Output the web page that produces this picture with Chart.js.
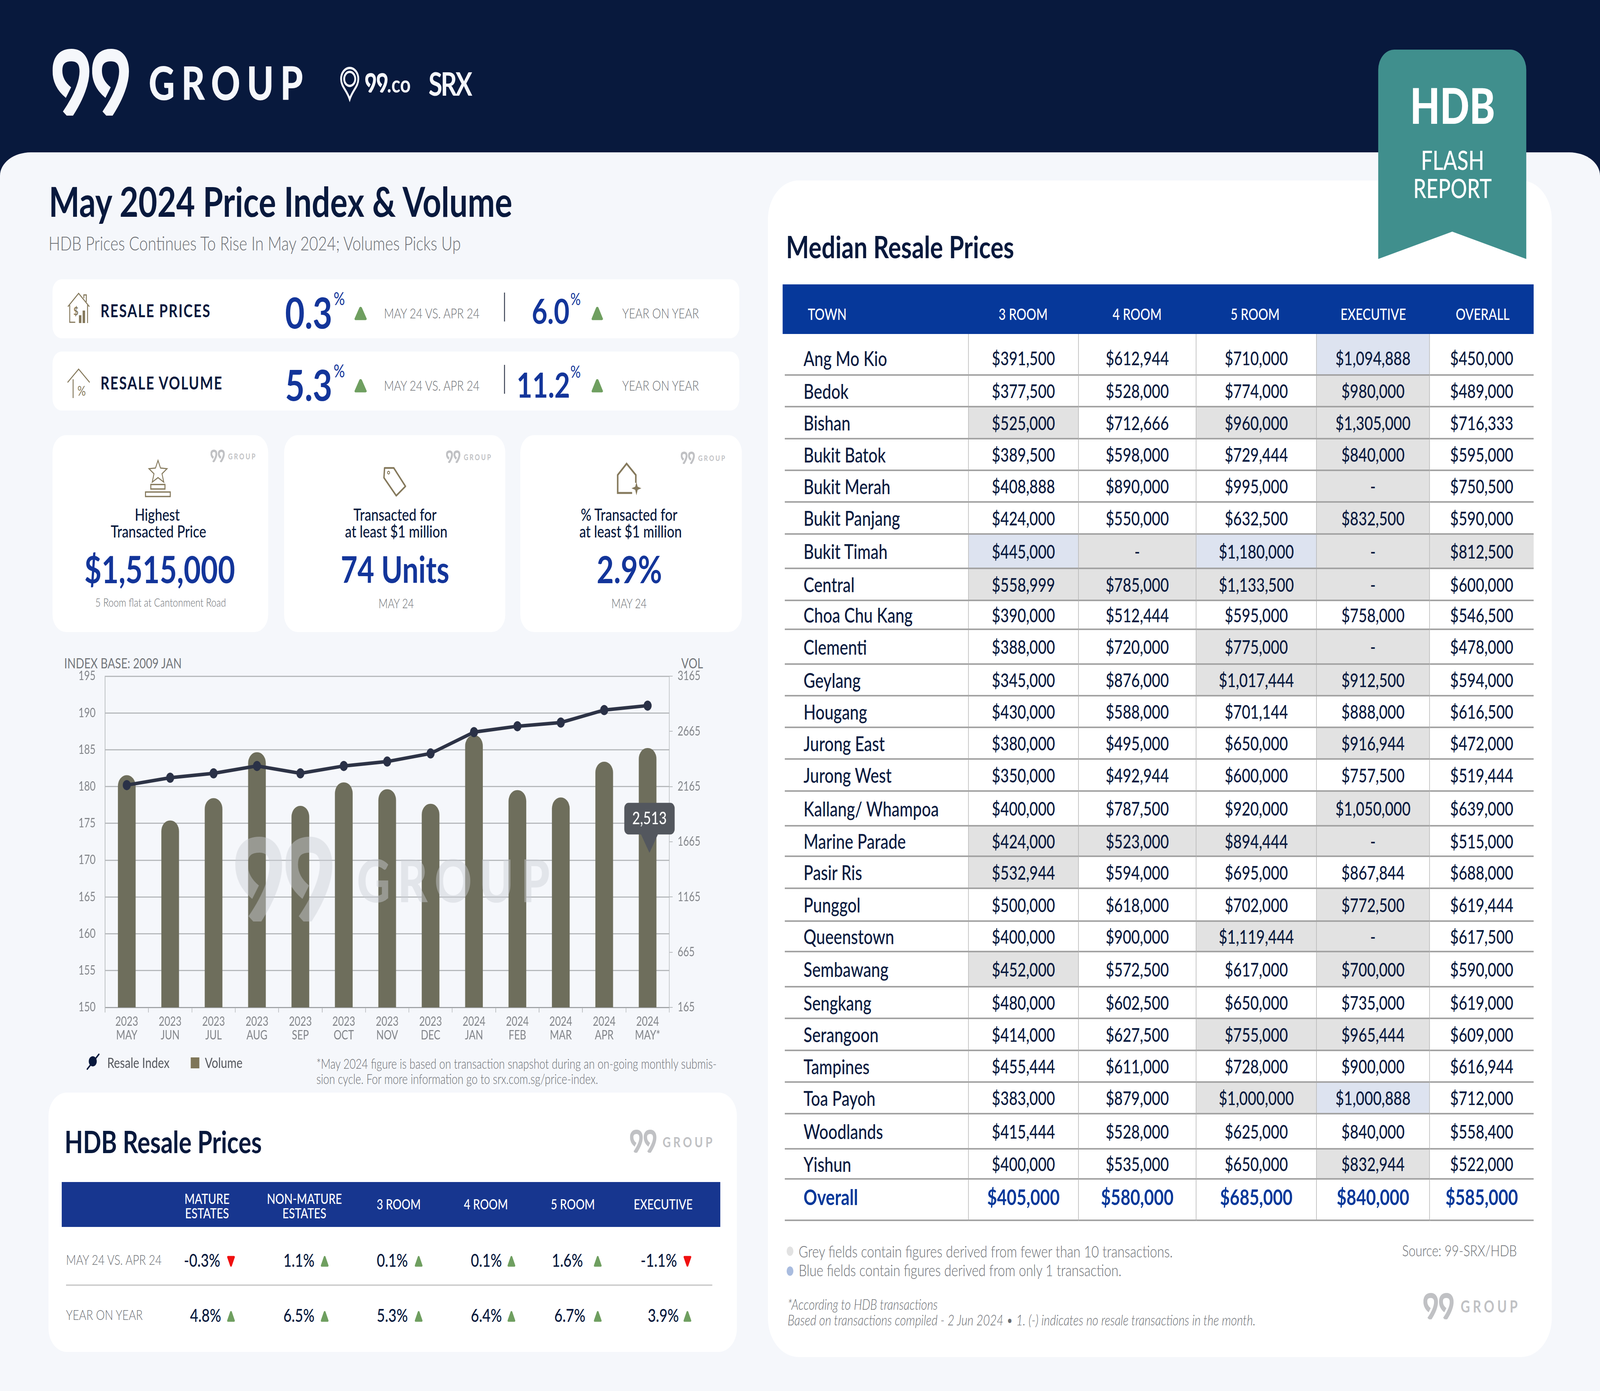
<!DOCTYPE html>
<html>
<head>
<meta charset="utf-8">
<title>HDB Flash Report May 2024</title>
<script src="https://cdn.jsdelivr.net/npm/chart.js@4"></script>
<style>
    html, body { margin: 0; padding: 0; overflow: hidden; background: #f5f7fb; }
    #page { position: absolute; left: 0; top: 0; width: 5209px; height: 3561px; overflow: hidden; transform-origin: 0 0; background: #f5f7fb; font-family: Lato, sans-serif; color: #0a1b40; }
    .box { position: absolute; }
    .txt { position: absolute; white-space: nowrap; line-height: 1; }
    svg { position: absolute; overflow: visible; }
    #priceTable { position: absolute; left: 2555px; top: 855px; width: 2438px; border-collapse: collapse; table-layout: fixed; font-size: 48px; font-weight: 500; }
    #priceTable td { padding: 0; text-align: center; border-right: 2px solid #b8b8b8; border-bottom: 4px solid #a3a3a3; box-sizing: border-box; }
    #priceTable td:last-child { border-right: none; }
    #priceTable td:first-child { text-align: left; padding-left: 61px; font-size: 52px; }
    #priceTable td.grey { background: #e2e2e2; }
    #priceTable td.blue { background: #dde3f0; }
    #priceTable tr.first td { padding-top: 20px; }
    #priceTable tr.overall td { color: #06389a; font-weight: 700; font-size: 55px; padding-bottom: 14px; }
</style>
</head>
<body>
<div id="page">
<svg width="0" height="0">
    <defs>
        <symbol id="nine" viewBox="0 0 125 171">
            <path d="M52 112 C30 98 16 80 16 56 C16 26 36 16 62 16 C88 16 104 30 104 58 C104 80 92 118 46 171" fill="none" stroke="currentColor" stroke-width="32"/>
        </symbol>
    </defs>
</svg>
</div>

<script>
// Index and volume chart
const months = [["2023","MAY"],["2023","JUN"],["2023","JUL"],["2023","AUG"],["2023","SEP"],["2023","OCT"],["2023","NOV"],["2023","DEC"],["2024","JAN"],["2024","FEB"],["2024","MAR"],["2024","APR"],["2024","MAY*"]];
const resaleIndex = [180.2, 181.2, 181.8, 182.8, 181.8, 182.8, 183.4, 184.5, 187.4, 188.2, 188.7, 190.4, 191.0];
const volume = [2267, 1857, 2059, 2475, 1989, 2202, 2140, 2008, 2630, 2132, 2065, 2389, 2513];
const indexTicks = [150, 155, 160, 165, 170, 175, 180, 185, 190, 195];
const volumeTicks = [165, 665, 1165, 1665, 2165, 2665, 3165];

// Median resale prices table
const towns = ["Ang Mo Kio","Bedok","Bishan","Bukit Batok","Bukit Merah","Bukit Panjang","Bukit Timah","Central","Choa Chu Kang","Clementi","Geylang","Hougang","Jurong East","Jurong West","Kallang/ Whampoa","Marine Parade","Pasir Ris","Punggol","Queenstown","Sembawang","Sengkang","Serangoon","Tampines","Toa Payoh","Woodlands","Yishun","Overall"];
const room3 = ["$391,500","$377,500","$525,000","$389,500","$408,888","$424,000","$445,000","$558,999","$390,000","$388,000","$345,000","$430,000","$380,000","$350,000","$400,000","$424,000","$532,944","$500,000","$400,000","$452,000","$480,000","$414,000","$455,444","$383,000","$415,444","$400,000","$405,000"];
const room4 = ["$612,944","$528,000","$712,666","$598,000","$890,000","$550,000","-","$785,000","$512,444","$720,000","$876,000","$588,000","$495,000","$492,944","$787,500","$523,000","$594,000","$618,000","$900,000","$572,500","$602,500","$627,500","$611,000","$879,000","$528,000","$535,000","$580,000"];
const room5 = ["$710,000","$774,000","$960,000","$729,444","$995,000","$632,500","$1,180,000","$1,133,500","$595,000","$775,000","$1,017,444","$701,144","$650,000","$600,000","$920,000","$894,444","$695,000","$702,000","$1,119,444","$617,000","$650,000","$755,000","$728,000","$1,000,000","$625,000","$650,000","$685,000"];
const executive = ["$1,094,888","$980,000","$1,305,000","$840,000","-","$832,500","-","-","$758,000","-","$912,500","$888,000","$916,944","$757,500","$1,050,000","-","$867,844","$772,500","-","$700,000","$735,000","$965,444","$900,000","$1,000,888","$840,000","$832,944","$840,000"];
const overall = ["$450,000","$489,000","$716,333","$595,000","$750,500","$590,000","$812,500","$600,000","$546,500","$478,000","$594,000","$616,500","$472,000","$519,444","$639,000","$515,000","$688,000","$619,444","$617,500","$590,000","$619,000","$609,000","$616,944","$712,000","$558,400","$522,000","$585,000"];
// cell shading by row: column index 1..5 (3 room .. overall)
const greyCells = {1:[4],2:[1,3,4],3:[4],4:[4],5:[4],6:[2,4,5],7:[1,2,3,4],9:[3,4],10:[3,4],12:[4],14:[4],15:[1,2,3,4],16:[1],17:[4],18:[3,4],19:[1,4],21:[3,4],23:[3],25:[4]};
const blueCells = {0:[4],6:[1,3],23:[4]};

// HDB resale prices table
const changeColumns = [["MATURE","ESTATES"],["NON-MATURE","ESTATES"],["3 ROOM"],["4 ROOM"],["5 ROOM"],["EXECUTIVE"]];
const monthChange = [-0.3, 1.1, 0.1, 0.1, 1.6, -1.1];
const yearChange = [4.8, 6.5, 5.3, 6.4, 6.7, 3.9];

const NAVY = "#08193d", BLUE = "#13359a", OLIVE = "#85795c", GREEN = "#6f9f60", RED = "#f01010", GREY = "#6b6e73";

// The sandbox can hand us a smaller window than asked for, so fit the 5209x3561 layout to it
const page = document.getElementById("page");
page.style.transform = `scale(${window.innerWidth / 5209}, ${window.innerHeight / 3561})`;

// ---- small drawing helpers ----
function box(x, y, w, h, bg, radius) {
    const el = document.createElement("div");
    el.className = "box";
    el.style.cssText = `left:${x}px;top:${y}px;width:${w}px;height:${h}px;background:${bg};border-radius:${radius || 0}`;
    page.appendChild(el);
    return el;
}

// y is the vertical centre of the text, align is left / center / right
function text(str, x, y, size, opts = {}) {
    const el = document.createElement("div");
    el.className = "txt";
    const shift = opts.align === "center" ? "-50%" : opts.align === "right" ? "-100%" : "0";
    el.style.cssText = `left:${x}px;top:${y}px;transform:translate(${shift},-50%);font-size:${size}px;font-weight:${opts.weight || 400};color:${opts.color || NAVY};letter-spacing:${opts.spacing || 0}px;font-style:${opts.style || "normal"}`;
    el.textContent = str;
    page.appendChild(el);
    return el;
}

function svg(markup, x, y, w, h, viewBox) {
    const holder = document.createElement("div");
    holder.innerHTML = `<svg style="left:${x}px;top:${y}px" width="${w}" height="${h}" viewBox="${viewBox}">${markup}</svg>`;
    page.appendChild(holder.firstChild);
}

function triangle(x, y, w, h, color, down) {
    const pts = down ? "1.5,1.5 8.5,1.5 5,10.5" : "5,1.5 8.5,10.5 1.5,10.5";
    svg(`<polygon points="${pts}" fill="${color}" stroke="${color}" stroke-width="2" stroke-linejoin="round"/>`, x, y, w, h, "0 0 10 12\" preserveAspectRatio=\"none");
}

function nines(x, y, h, color) {
    const w = h * 125 / 171, gap = w * 1.03;
    svg(`<use href="#nine" x="0" y="0" width="125" height="171" color="${color}"/><use href="#nine" x="129" y="0" width="125" height="171" color="${color}"/>`, x, y, w + gap, h, "0 0 254 171");
}

function smallLogo(x, y, w, color) {
    // whole mark is w wide, the 99 takes about 36 percent of it
    const h = w * 0.212;
    nines(x, y, h, color);
    text("GROUP", x + w * 0.38, y + h * 0.52, h * 0.62, { weight: 700, color: color, spacing: h * 0.14 });
}

// ---- header ----
box(0, 0, 5209, 450, NAVY);
box(0, 390, 5209, 3171, "#f5f7fb", "100px 100px 0 0 / 60px 60px 0 0");
nines(171, 125, 171, "#f5f7fb");
text("GROUP", 484, 211, 118, { weight: 900, color: "#f5f7fb", spacing: 21 });
svg(`<path d="M32 84 C22 60 4 52 4 32 A28 28 0 0 1 60 32 C60 52 42 60 32 84 Z M32 14 A18 18 0 1 0 32 50 A18 18 0 1 0 32 14" fill="none" stroke="#f5f7fb" stroke-width="6"/>`, 1106, 170, 65, 84, "0 0 64 84");
nines(1189, 187, 50, "#f5f7fb");
text(".co", 1260, 214, 60, { weight: 700, color: "#f5f7fb" });
text("SRX", 1395, 213, 82, { weight: 700, color: "#f5f7fb", spacing: -5 });

// ---- left column headline ----
text("May 2024 Price Index & Volume", 159, 514, 106, { weight: 700 });
text("HDB Prices Continues To Rise In May 2024; Volumes Picks Up", 158, 622, 50, { weight: 300, color: GREY });

box(171, 715, 2236, 151, "#ffffff", "30px");
box(171, 900, 2236, 151, "#ffffff", "30px");

// house icons in the two summary bars
svg(`<path d="M6 38 L41 4 L76 38 M12 34 V78 H30 M70 34 V80 M58 16 V8 H66 V26" fill="none" stroke="${OLIVE}" stroke-width="3"/><path d="M42 60 H50 V80 H42 Z M54 48 H62 V80 H54 Z" fill="${OLIVE}"/><text x="24" y="60" font-size="28" font-weight="700" fill="${OLIVE}" font-family="Lato">$</text>`, 215, 747, 83, 85, "0 0 83 85");
svg(`<path d="M2 36 L38 2 L74 36 M20 28 V76" fill="none" stroke="${OLIVE}" stroke-width="3"/><text x="34" y="70" font-size="34" fill="${OLIVE}" font-family="Lato">%</text>`, 218, 943, 75, 77, "0 0 75 77");

function statRow(label, y, big1, big2, size2, x2, pct2Y, big2Y) {
    text(label, 327, y, 45, { weight: 700, spacing: 3 });
    text(big1, 928, y + 3, 110, { weight: 700, color: BLUE });
    text("%", 1086, y - 31, 46, { color: BLUE });
    triangle(1152, y - 11, 44, 37, GREEN);
    text("MAY 24 VS. APR 24", 1250, y + 6, 36, { weight: 300, color: GREY });
    box(1641, y - 46, 3, 74, "#333a4d");
    text(big2, x2, big2Y, size2, { weight: 700, color: BLUE });
    text("%", 1857, pct2Y, 42, { color: BLUE });
    triangle(1924, y - 11, 41, 37, GREEN);
    text("YEAR ON YEAR", 2026, y + 6, 36, { weight: 300, color: GREY });
}
statRow("RESALE PRICES", 795, "0.3", "6.0", 88, 1731, 765, 795);
statRow("RESALE VOLUME", 980, "5.3", "11.2", 88, 1682, 951, 984);

// ---- three highlight cards ----
box(171, 1114, 702, 504, "#ffffff", "44px");
box(925, 1114, 720, 504, "#ffffff", "44px");
box(1694, 1114, 721, 504, "#ffffff", "44px");
smallLogo(685, 1151, 152, "#c0c1c4");
smallLogo(1452, 1153, 152, "#c0c1c4");
smallLogo(2216, 1156, 150, "#c0c1c4");

svg(`<path d="M44 2 L54 26 L80 28 L60 44 L67 70 L44 56 L21 70 L28 44 L8 28 L34 26 Z" fill="none" stroke="${OLIVE}" stroke-width="3.5" transform="translate(7,0) scale(.85)"/><rect x="20" y="66" width="48" height="12" fill="none" stroke="${OLIVE}" stroke-width="3.5"/><rect x="2" y="86" width="84" height="12" fill="none" stroke="${OLIVE}" stroke-width="3.5"/>`, 470, 1177, 88, 96, "0 0 88 100");
svg(`<path d="M6 3 H36 L74 50 L44 74 L4 28 Z" fill="none" stroke="${OLIVE}" stroke-width="4.5" stroke-linejoin="round"/><circle cx="19" cy="15" r="3.5" fill="none" stroke="${OLIVE}" stroke-width="2.5"/>`, 1246, 1195, 77, 76, "0 0 77 76");
svg(`<path d="M50 78 H3 V32 L32 3 L62 32 V52" fill="none" stroke="${OLIVE}" stroke-width="5"/><path d="M64 50 L68 62 L80 66 L68 70 L64 84 L60 70 L48 66 L60 62 Z" fill="${OLIVE}"/>`, 2008, 1184, 80, 85, "0 0 80 85");

const cards = [
    { c1: 512, c2: 516, l1: "Highest", l2: "Transacted Price", big: "$1,515,000", bigC: 520, bigS: 96, sub: "5 Room flat at Cantonment Road", subC: 523, subY: 1541, subS: 30 },
    { c1: 1286, c2: 1290, l1: "Transacted for", l2: "at least $1 million", big: "74 Units", bigC: 1286, bigS: 94, sub: "MAY 24", subC: 1290, subY: 1544, subS: 33 },
    { c1: 2048, c2: 2053, l1: "% Transacted for", l2: "at least $1 million", big: "2.9%", bigC: 2049, bigS: 96, sub: "MAY 24", subC: 2048, subY: 1544, subS: 33 }
];
cards.forEach(c => {
    text(c.l1, c.c1, 1316, 43, { align: "center", weight: 500 });
    text(c.l2, c.c2, 1359, 43, { align: "center", weight: 500 });
    text(c.big, c.bigC, 1456, c.bigS, { align: "center", weight: 700, color: BLUE });
    text(c.sub, c.subC, c.subY, c.subS, { align: "center", weight: 300, color: GREY });
});

// ---- chart captions ----
text("INDEX BASE: 2009 JAN", 209, 1697, 36, { weight: 400, color: "#74777c" });
text("VOL", 2218, 1697, 36, { weight: 400, color: "#74777c" });

// Callout above the last volume bar, its position comes from the bar element
const calloutPlugin = {
    id: "callout",
    afterDatasetsDraw(chart) {
        const meta = chart.getDatasetMeta(1);
        const last = meta.data[meta.data.length - 1];
        const ctx = chart.ctx;
        const cx = last.x + 6;
        const top = last.y + 140;
        ctx.save();
        ctx.fillStyle = "#53575e";
        ctx.beginPath();
        ctx.roundRect(cx - 82, top, 164, 81, 14);
        ctx.fill();
        ctx.beginPath();
        ctx.moveTo(cx - 28, top + 80);
        ctx.lineTo(cx + 28, top + 80);
        ctx.lineTo(cx, top + 128);
        ctx.closePath();
        ctx.fill();
        ctx.fillStyle = "#ffffff";
        ctx.font = "500 44px Lato";
        ctx.textAlign = "center";
        ctx.textBaseline = "middle";
        ctx.fillText(volume[volume.length - 1].toLocaleString("en-US"), cx, top + 41);
        ctx.restore();
    }
};

const tickFont = { family: "Lato", size: 32, weight: "400" };
const tickColor = "#808388";
const gridColor = "#b7babd";

// canvas goes in after the page backgrounds so they do not cover it
const canvas = document.createElement("canvas");
canvas.id = "trendChart";
canvas.width = 2100;
canvas.height = 1000;
canvas.style.cssText = "position:absolute;left:200px;top:1700px;width:2100px;height:1000px";
page.appendChild(canvas);

// tick padding also counts as space above the plot, so drop it to pin the plot top
function fitSideAxis(scale, width) {
    scale.width = width;
    scale.paddingTop = 0;
    scale.paddingBottom = 0;
}

new Chart(canvas.getContext("2d"), {
    type: "bar",
    data: {
        labels: months,
        datasets: [
            {
                type: "line",
                label: "Resale Index",
                data: resaleIndex,
                yAxisID: "yIndex",
                order: 1,
                borderColor: "#2d3346",
                backgroundColor: "#2d3346",
                borderWidth: 9,
                pointRadius: 13,
                pointBackgroundColor: "#2a3147",
                pointBorderWidth: 0,
                tension: 0
            },
            {
                type: "bar",
                label: "Volume",
                data: volume,
                yAxisID: "yVolume",
                order: 2,
                backgroundColor: "#6e6e5c",
                barThickness: 57,
                borderSkipped: "bottom",
                borderRadius: { topLeft: 28, topRight: 28, bottomLeft: 0, bottomRight: 0 }
            }
        ]
    },
    options: {
        responsive: false,
        devicePixelRatio: 1,
        animation: false,
        layout: { padding: { top: 31, left: 0, right: 0, bottom: 0 } },
        plugins: { legend: { display: false }, tooltip: { enabled: false } },
        scales: {
            x: {
                offset: true,
                grid: { offset: true, drawOnChartArea: false, drawTicks: true, tickLength: 13, color: gridColor, lineWidth: 2 },
                border: { color: "#9a9da0", width: 2 },
                ticks: { font: { ...tickFont, lineHeight: 1.1 }, color: tickColor, maxRotation: 0, autoSkip: false, padding: 6 },
                afterFit(scale) { scale.height = 121; }
            },
            yIndex: {
                position: "left",
                min: indexTicks[0],
                max: indexTicks[indexTicks.length - 1],
                grid: { color: gridColor, lineWidth: 3, drawTicks: false },
                border: { color: gridColor, width: 2 },
                ticks: { stepSize: indexTicks[1] - indexTicks[0], font: tickFont, color: tickColor, padding: 31 },
                afterFit(scale) { fitSideAxis(scale, 142); }
            },
            yVolume: {
                position: "right",
                min: volumeTicks[0],
                max: volumeTicks[volumeTicks.length - 1],
                grid: { drawOnChartArea: false, tickLength: 11, color: gridColor, lineWidth: 2 },
                border: { color: gridColor, width: 2 },
                ticks: { stepSize: volumeTicks[1] - volumeTicks[0], font: tickFont, color: tickColor, padding: 16, callback: v => String(v) },
                afterFit(scale) { fitSideAxis(scale, 121); }
            }
        }
    },
    plugins: [calloutPlugin]
});

// watermark sits over the bars
nines(766, 2142, 217, "rgba(205,207,212,0.45)");
text("GROUP", 1162, 2252, 150, { weight: 900, color: "rgba(205,207,212,0.45)", spacing: 24 });

// legend
svg(`<line x1="4" y1="40" x2="42" y2="2" stroke="#08193d" stroke-width="4" stroke-linecap="round"/><circle cx="22" cy="20" r="13" fill="#08193d"/>`, 280, 2697, 44, 42, "0 0 44 42");
text("Resale Index", 349, 2719, 37, { color: "#55585e" });
box(621, 2707, 28, 28, "#7f7658");
text("Volume", 667, 2719, 37, { color: "#55585e" });
text("*May 2024 figure is based on transaction snapshot during an on-going monthly submis-", 1030, 2723, 34.6, { weight: 300, color: GREY });
text("sion cycle. For more information go to srx.com.sg/price-index.", 1030, 2762, 34.6, { weight: 300, color: GREY });

// ---- HDB resale prices card ----
box(158, 2797, 2241, 664, "#ffffff", "60px");
text("HDB Resale Prices", 210, 2922, 78, { weight: 700 });
smallLogo(2051, 2892, 279, "#c0c1c4");
box(201, 3026, 2144, 115, "#17368f");

const changeCentres = [674, 991, 1298, 1582, 1865, 2159];
const valueRights = [717, 1024, 1328, 1634, 1898, 2204];
const yearRights = [720, 1024, 1328, 1634, 1906, 2210];
const triLefts = [738, 1043, 1349, 1651, 1932, 2224];

changeColumns.forEach((lines, i) => {
    if (lines.length === 2) {
        text(lines[0], changeCentres[i], 3068, 36, { align: "center", color: "#ffffff", weight: 500 });
        text(lines[1], changeCentres[i], 3105, 36, { align: "center", color: "#ffffff", weight: 500 });
    } else {
        text(lines[0], changeCentres[i], 3082, 36, { align: "center", color: "#ffffff", weight: 500 });
    }
});

function changeRow(label, values, rights, y) {
    text(label, 215, y - 2, 36, { weight: 300, color: GREY });
    values.forEach((v, i) => {
        text(v.toFixed(1) + "%", rights[i], y, 46, { align: "right", weight: 500 });
        triangle(triLefts[i], y - 12, 28, 30, v < 0 ? RED : GREEN, v < 0);
    });
}
changeRow("MAY 24 VS. APR 24", monthChange, valueRights, 3226);
box(215, 3288, 2104, 4, "#cfcfcf");
changeRow("YEAR ON YEAR", yearChange, yearRights, 3367);

// ---- median resale prices card ----
box(2500, 462, 2552, 3012, "#ffffff", "100px");
svg(`<path d="M0 52 A52 52 0 0 1 52 0 H430 A52 52 0 0 1 482 52 V536 L241 466 L0 536 Z" fill="#408f8d"/>`, 4487, 127, 482, 536, "0 0 482 536");
text("HDB", 4729, 269, 126, { align: "center", color: "#ffffff", weight: 900 });
text("FLASH", 4729, 409, 67, { align: "center", color: "#ffffff", weight: 500 });
text("REPORT", 4729, 481, 67, { align: "center", color: "#ffffff", weight: 500 });
text("Median Resale Prices", 2559, 630, 79, { weight: 700 });

box(2548, 728, 2445, 127, "#06389a");
const headers = ["TOWN", "3 ROOM", "4 ROOM", "5 ROOM", "EXECUTIVE", "OVERALL"];
const headerCentres = [null, 3331, 3702, 4086, 4471, 4827];
headers.forEach((h, i) => {
    if (i === 0) text(h, 2630, 804, 40, { color: "#ffffff", weight: 500 });
    else text(h, headerCentres[i], 804, 40, { align: "center", color: "#ffffff", weight: 500 });
});

// Build table rows from the value lists
const rowBottoms = [960, 1041, 1123, 1204, 1285, 1367, 1455, 1537, 1611, 1700, 1781, 1862, 1943, 2025, 2114, 2192, 2274, 2358, 2436, 2526, 2607, 2689, 2770, 2851, 2941, 3018, 3124];
const columnWidths = [598, 358, 383, 392, 368, 339];
const table = document.createElement("table");
table.id = "priceTable";
const colgroup = document.createElement("colgroup");
columnWidths.forEach(w => {
    const col = document.createElement("col");
    col.style.width = w + "px";
    colgroup.appendChild(col);
});
table.appendChild(colgroup);
towns.forEach((town, r) => {
    const tr = document.createElement("tr");
    if (r === 0) tr.className = "first";
    if (r === towns.length - 1) tr.className = "overall";
    const cells = [town, room3[r], room4[r], room5[r], executive[r], overall[r]];
    const height = rowBottoms[r] - (r === 0 ? 855 : rowBottoms[r - 1]);
    cells.forEach((v, c) => {
        const td = document.createElement("td");
        td.textContent = v;
        td.style.height = height + "px";
        if ((greyCells[r] || []).includes(c)) td.className = "grey";
        if ((blueCells[r] || []).includes(c)) td.className = "blue";
        tr.appendChild(td);
    });
    table.appendChild(tr);
});
page.appendChild(table);

// table footnotes
box(2561, 3191, 22, 24, "#e2e2e2", "50%");
box(2561, 3242, 22, 24, "#a9bcdf", "50%");
text("Grey fields contain figures derived from fewer than 10 transactions.", 2600, 3203, 42, { weight: 300, color: GREY });
text("Blue fields contain figures derived from only 1 transaction.", 2600, 3251, 42, { weight: 300, color: GREY });
text("Source: 99-SRX/HDB", 4565, 3201, 40, { weight: 300, color: GREY });
text("*According to HDB transactions", 2564, 3338, 38, { weight: 300, style: "italic", color: GREY });
text("Based on transactions compiled - 2 Jun 2024  \u2022  1. (-) indicates no resale transactions in the month.", 2564, 3378, 38, { weight: 300, style: "italic", color: GREY });
smallLogo(4634, 3310, 319, "#c0c1c4");
</script>
</body>
</html>
